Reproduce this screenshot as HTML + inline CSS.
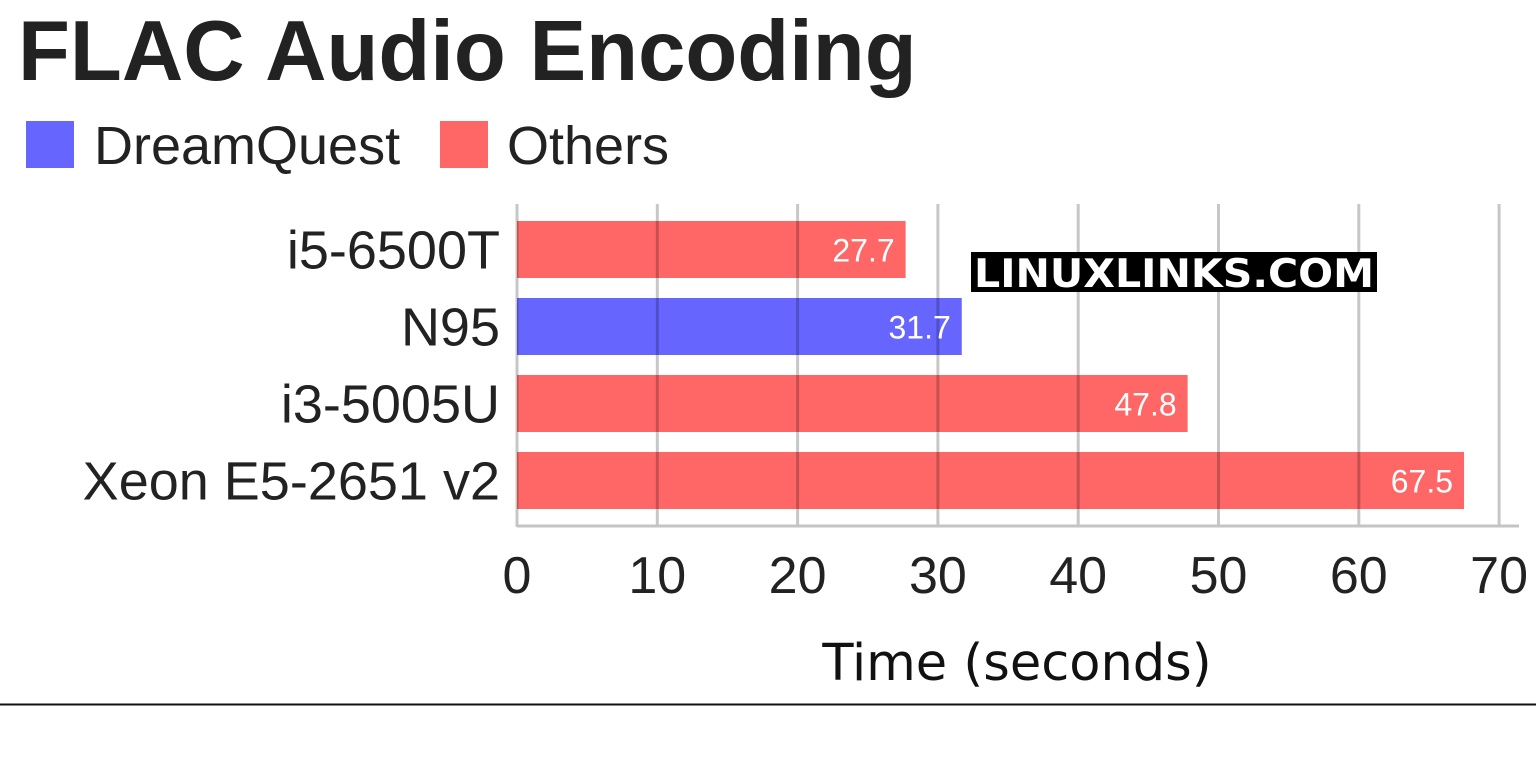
<!DOCTYPE html>
<html><head><meta charset="utf-8"><style>
html,body{margin:0;padding:0;background:#fff;}
svg{display:block;}
</style></head><body>
<svg id="chart" width="1536" height="768" xmlns="http://www.w3.org/2000/svg">
<text x="18" y="80" font-family="Liberation Sans, sans-serif" font-weight="bold" font-size="85" fill="#222">FLAC Audio Encoding</text>
<g>
<rect x="26" y="121" width="48" height="47" fill="#6666ff"/>
<text x="94" y="164" font-family="Liberation Sans, sans-serif" font-size="54" fill="#222">DreamQuest</text>
<rect x="440" y="121" width="48" height="47" fill="#ff6666"/>
<text x="507" y="164" font-family="Liberation Sans, sans-serif" font-size="54" fill="#222">Others</text>
</g>
<g id="plot"></g>
<g>
<rect x="971" y="252" width="406" height="40" fill="#000"/>
<text x="974" y="287" font-family="DejaVu Sans, sans-serif" font-weight="bold" font-size="39" fill="#fff" textLength="400" lengthAdjust="spacingAndGlyphs">LINUXLINKS.COM</text>
</g>
<text x="1017" y="680" text-anchor="middle" font-family="DejaVu Sans, sans-serif" font-size="51" fill="#111">Time (seconds)</text>
<line x1="0" y1="704.5" x2="1536" y2="704.5" stroke="#111" stroke-width="2"/>
</svg>
<script>
const categories = ["i5-6500T","N95","i3-5005U","Xeon E5-2651 v2"];
const values = [27.7,31.7,47.8,67.5];
const highlight = [false,true,false,false];
const ticks = [0,10,20,30,40,50,60,70];
const NS="http://www.w3.org/2000/svg";
const plot=document.getElementById('plot');
const x0=517, pxPer=14.03;
function xs(v){return x0+v*pxPer;}
function yb(i){return 221+i*77;}
const bh=57;
function mk(tag,attrs){const e=document.createElementNS(NS,tag);for(const k in attrs)e.setAttribute(k,attrs[k]);plot.appendChild(e);return e;}
categories.forEach((c,i)=>{
  const r=mk('rect',{x:xs(0),y:yb(i),width:xs(values[i])-xs(0),height:bh,fill:highlight[i]?'#6666ff':'#ff6666'});
  
  
  const l=mk('text',{x:500,y:yb(i)+bh/2+19,'text-anchor':'end','font-family':'Liberation Sans, sans-serif','font-size':54,fill:'#222'});
  l.textContent=c;
  
  
});
ticks.forEach(t=>{
  const g=mk('line',{x1:xs(t),y1:204,x2:xs(t),y2:527,stroke:'rgba(0,0,0,0.22)','stroke-width':3});
  
  
  const tl=mk('text',{x:xs(t),y:593,'text-anchor':'middle','font-family':'Liberation Sans, sans-serif','font-size':52,fill:'#222'});
  tl.textContent=t;
  
  
});
const ax=mk('line',{x1:517,y1:526,x2:1519,y2:526,stroke:'#c4c4c4','stroke-width':3});


categories.forEach((c,i)=>{
  const v=mk('text',{x:xs(values[i])-11,y:yb(i)+bh/2+12,'text-anchor':'end','font-family':'Liberation Sans, sans-serif','font-size':32,fill:'#fff'});
  v.textContent=values[i].toFixed(1);
  
  
});
</script>
</body></html>
